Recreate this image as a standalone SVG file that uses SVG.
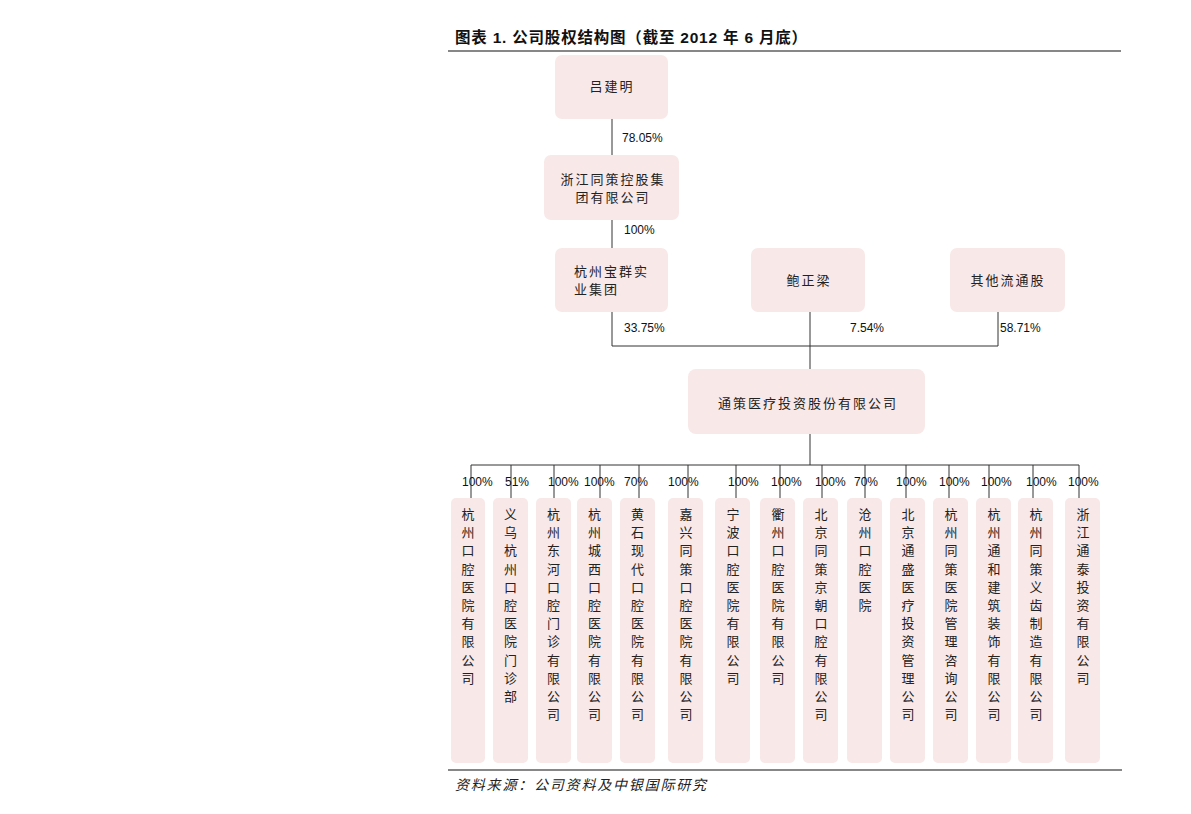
<svg xmlns="http://www.w3.org/2000/svg" width="1191" height="814" viewBox="0 0 1191 814">
<style>
.bx{fill:#f9e8e8;}
.t{font-family:"Noto Sans CJK SC","Noto Sans CJK JP",sans-serif;font-size:13px;fill:#222;letter-spacing:2px;}
.v{font-family:"Noto Sans CJK SC","Noto Sans CJK JP",sans-serif;font-size:13px;fill:#222;text-anchor:middle;}
.p{font-family:"Liberation Sans",Arial,sans-serif;font-size:12px;fill:#111;}
.ln{stroke:#333;stroke-width:1;fill:none;}
.rule{stroke:#111;stroke-width:1.2;}
</style>
<rect width="1191" height="814" fill="#fff"/>
<text x="455" y="43" font-family="'Liberation Sans','Noto Sans CJK SC',sans-serif" font-size="15.5" font-weight="bold" fill="#111" textLength="352" lengthAdjust="spacing">图表 1. 公司股权结构图（截至 2012 年 6 月底）</text>
<line class="rule" x1="448" y1="51" x2="1121" y2="51"/>

<g id="connectors">
<path class="ln" d="M612 119V155"/>
<path class="ln" d="M612 220V248"/>
<path class="ln" d="M612 312V346H998V312"/>
<path class="ln" d="M810 312V369"/>
<path class="ln" d="M810 434V465"/>
<path class="ln" d="M471 498V465H1079V498"/>
<path class="ln" d="M511 465V498M554 465V498M600 465V498M639 465V498M688 465V498M736 465V498M780 465V498M822 465V498M865 465V498M906 465V498M949 465V498M989 465V498M1033 465V498"/>
<text class="p" x="622" y="142">78.05%</text>
<text class="p" x="624" y="234">100%</text>
<text class="p" x="624" y="332">33.75%</text>
<text class="p" x="850" y="332">7.54%</text>
<text class="p" x="1000" y="332">58.71%</text>
<text class="p" x="462" y="486">100%</text>
<text class="p" x="505" y="486">51%</text>
<text class="p" x="548" y="486">100%</text>
<text class="p" x="584" y="486">100%</text>
<text class="p" x="624" y="486">70%</text>
<text class="p" x="668" y="486">100%</text>
<text class="p" x="728" y="486">100%</text>
<text class="p" x="771" y="486">100%</text>
<text class="p" x="815" y="486">100%</text>
<text class="p" x="854" y="486">70%</text>
<text class="p" x="896" y="486">100%</text>
<text class="p" x="939" y="486">100%</text>
<text class="p" x="981" y="486">100%</text>
<text class="p" x="1026" y="486">100%</text>
<text class="p" x="1068" y="486">100%</text>
</g>

<g id="n-lv"><rect class="bx" x="555" y="55" width="113" height="64" rx="7"/><text class="t" x="612" y="91" text-anchor="middle">吕建明</text></g>
<g id="n-zjtc"><rect class="bx" x="544" y="155" width="135" height="65" rx="7"/><text class="t" x="613" y="183.5" text-anchor="middle">浙江同策控股集</text><text class="t" x="613" y="201.5" text-anchor="middle">团有限公司</text></g>
<g id="n-bq"><rect class="bx" x="555" y="248" width="113" height="64" rx="7"/><text class="t" x="574" y="275.5">杭州宝群实</text><text class="t" x="574" y="293.5">业集团</text></g>
<g id="n-bzl"><rect class="bx" x="751" y="248" width="114" height="64" rx="7"/><text class="t" x="809" y="285" text-anchor="middle">鲍正梁</text></g>
<g id="n-qt"><rect class="bx" x="950" y="248" width="115" height="64" rx="7"/><text class="t" x="1008" y="285" text-anchor="middle">其他流通股</text></g>
<g id="n-tc"><rect class="bx" x="688" y="369" width="237" height="65" rx="8"/><text class="t" x="808" y="407.5" text-anchor="middle">通策医疗投资股份有限公司</text></g>

<g id="c1"><rect class="bx" x="451" y="498" width="34" height="265" rx="5"/><text class="v" x="468 468 468 468 468 468 468 468 468 468" y="519 537.2 555.4 573.6 591.8 610 628.2 646.4 664.6 682.8">杭州口腔医院有限公司</text></g>
<g id="c2"><rect class="bx" x="493" y="498" width="35" height="265" rx="5"/><text class="v" x="510.5 510.5 510.5 510.5 510.5 510.5 510.5 510.5 510.5 510.5 510.5" y="519 537.2 555.4 573.6 591.8 610 628.2 646.4 664.6 682.8 701">义乌杭州口腔医院门诊部</text></g>
<g id="c3"><rect class="bx" x="536" y="498" width="35" height="265" rx="5"/><text class="v" x="553.5 553.5 553.5 553.5 553.5 553.5 553.5 553.5 553.5 553.5 553.5 553.5" y="519 537.2 555.4 573.6 591.8 610 628.2 646.4 664.6 682.8 701 719.2">杭州东河口腔门诊有限公司</text></g>
<g id="c4"><rect class="bx" x="577" y="498" width="35" height="265" rx="5"/><text class="v" x="594.5 594.5 594.5 594.5 594.5 594.5 594.5 594.5 594.5 594.5 594.5 594.5" y="519 537.2 555.4 573.6 591.8 610 628.2 646.4 664.6 682.8 701 719.2">杭州城西口腔医院有限公司</text></g>
<g id="c5"><rect class="bx" x="620" y="498" width="35" height="265" rx="5"/><text class="v" x="637.5 637.5 637.5 637.5 637.5 637.5 637.5 637.5 637.5 637.5 637.5 637.5" y="519 537.2 555.4 573.6 591.8 610 628.2 646.4 664.6 682.8 701 719.2">黄石现代口腔医院有限公司</text></g>
<g id="c6"><rect class="bx" x="668" y="498" width="35" height="265" rx="5"/><text class="v" x="686 686 686 686 686 686 686 686 686 686 686 686" y="519 537.2 555.4 573.6 591.8 610 628.2 646.4 664.6 682.8 701 719.2">嘉兴同策口腔医院有限公司</text></g>
<g id="c7"><rect class="bx" x="715" y="498" width="35" height="265" rx="5"/><text class="v" x="733 733 733 733 733 733 733 733 733 733" y="519 537.2 555.4 573.6 591.8 610 628.2 646.4 664.6 682.8">宁波口腔医院有限公司</text></g>
<g id="c8"><rect class="bx" x="760" y="498" width="35" height="265" rx="5"/><text class="v" x="778 778 778 778 778 778 778 778 778 778" y="519 537.2 555.4 573.6 591.8 610 628.2 646.4 664.6 682.8">衢州口腔医院有限公司</text></g>
<g id="c9"><rect class="bx" x="803" y="498" width="35" height="265" rx="5"/><text class="v" x="821 821 821 821 821 821 821 821 821 821 821 821" y="519 537.2 555.4 573.6 591.8 610 628.2 646.4 664.6 682.8 701 719.2">北京同策京朝口腔有限公司</text></g>
<g id="c10"><rect class="bx" x="847" y="498" width="35" height="265" rx="5"/><text class="v" x="865 865 865 865 865 865" y="519 537.2 555.4 573.6 591.8 610">沧州口腔医院</text></g>
<g id="c11"><rect class="bx" x="890" y="498" width="35" height="265" rx="5"/><text class="v" x="908 908 908 908 908 908 908 908 908 908 908 908" y="519 537.2 555.4 573.6 591.8 610 628.2 646.4 664.6 682.8 701 719.2">北京通盛医疗投资管理公司</text></g>
<g id="c12"><rect class="bx" x="933" y="498" width="35" height="265" rx="5"/><text class="v" x="951 951 951 951 951 951 951 951 951 951 951 951" y="519 537.2 555.4 573.6 591.8 610 628.2 646.4 664.6 682.8 701 719.2">杭州同策医院管理咨询公司</text></g>
<g id="c13"><rect class="bx" x="976" y="498" width="35" height="265" rx="5"/><text class="v" x="994 994 994 994 994 994 994 994 994 994 994 994" y="519 537.2 555.4 573.6 591.8 610 628.2 646.4 664.6 682.8 701 719.2">杭州通和建筑装饰有限公司</text></g>
<g id="c14"><rect class="bx" x="1018" y="498" width="35" height="265" rx="5"/><text class="v" x="1036 1036 1036 1036 1036 1036 1036 1036 1036 1036 1036 1036" y="519 537.2 555.4 573.6 591.8 610 628.2 646.4 664.6 682.8 701 719.2">杭州同策义齿制造有限公司</text></g>
<g id="c15"><rect class="bx" x="1065" y="498" width="35" height="265" rx="5"/><text class="v" x="1083 1083 1083 1083 1083 1083 1083 1083 1083 1083" y="519 537.2 555.4 573.6 591.8 610 628.2 646.4 664.6 682.8">浙江通泰投资有限公司</text></g>

<line class="rule" x1="448" y1="770" x2="1122" y2="770"/>
<text x="455" y="790" font-family="'Noto Sans CJK SC',sans-serif" font-size="14" font-style="italic" letter-spacing="1.8" fill="#222">资料来源：公司资料及中银国际研究</text>
</svg>
